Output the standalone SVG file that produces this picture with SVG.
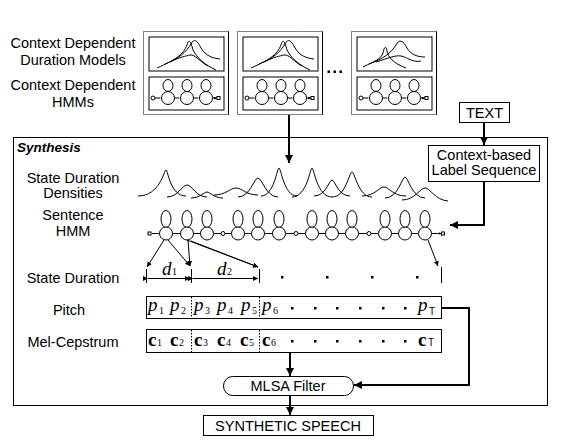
<svg xmlns="http://www.w3.org/2000/svg" width="586" height="443" viewBox="0 0 586 443">
<defs>
<style>
text{font-family:"Liberation Sans",Arial,sans-serif;fill:#000}
.lbl{font-size:14.5px;text-anchor:middle}
.syn{font-size:13.5px;font-weight:bold;font-style:italic}
.box{fill:#fff;stroke:#000;stroke-width:1}
.dot{fill:none;stroke:#000;stroke-width:1;stroke-dasharray:1 1}
.thin{fill:none;stroke:#000;stroke-width:1}
.conn{fill:none;stroke:#000;stroke-width:2}
.st{fill:#fff;stroke:#000;stroke-width:1}
.pv{font-family:"Liberation Serif","Times New Roman",serif;font-style:italic;font-size:19px}
.cv{font-family:"Liberation Serif","Times New Roman",serif;font-weight:bold;font-size:19px}
.sb{font-family:"Liberation Serif","Times New Roman",serif;font-size:10px}
.sbs{font-size:10px}
.dv{stroke:#000;stroke-width:1;stroke-dasharray:1.5 1.5}
.pk{fill:none;stroke:#000;stroke-width:1}
</style>
<marker id="ah" markerUnits="userSpaceOnUse" markerWidth="9" markerHeight="9" refX="8" refY="4" orient="auto"><path d="M0,0 L8,4 L0,8 z" fill="#000"/></marker>
<marker id="as" markerUnits="userSpaceOnUse" markerWidth="6" markerHeight="6" refX="5" refY="2.5" orient="auto"><path d="M0,0 L5,2.5 L0,5 z" fill="#000"/></marker>
<marker id="at" markerUnits="userSpaceOnUse" markerWidth="4" markerHeight="4" refX="3" refY="1.5" orient="auto"><path d="M0,0 L3,1.5 L0,3 z" fill="#000"/></marker>
<g id="mini">
<rect class="box" x="6" y="6" width="75" height="34"/>
<rect class="box" x="6" y="46" width="75" height="33"/>
<path class="thin" d="M12,67 H17.5 M32,67 H36.5 M51,67 H55.5 M70,67 H74" marker-end="url(#at)"/>
<circle class="st" cx="10" cy="67" r="2"/>
<rect class="st" x="74" y="65.5" width="3" height="3"/>
<ellipse class="st" cx="25" cy="54.5" rx="5" ry="6"/><circle class="st" cx="25" cy="67" r="6.5"/>
<ellipse class="st" cx="44" cy="54.5" rx="5" ry="6"/><circle class="st" cx="44" cy="67" r="6.5"/>
<ellipse class="st" cx="63" cy="54.5" rx="5" ry="6"/><circle class="st" cx="63" cy="67" r="6.5"/>
</g>
</defs>

<g id="labels-left">
<text class="lbl" x="73" y="48">Context Dependent</text>
<text class="lbl" x="73" y="65">Duration Models</text>
<text class="lbl" x="73" y="90">Context Dependent</text>
<text class="lbl" x="73" y="107">HMMs</text>
</g>

<g id="model1" transform="translate(143,31)">
<rect class="dot" x="0.5" y="0.5" width="85" height="83"/>
<line class="thin" x1="85.5" y1="0.5" x2="85.5" y2="83.5"/>
<use href="#mini"/>
<path class="pk" d="M14,37 C32,29 40,24 44,14 C46,7 48,11 50,19 C54,27 62,34 73,39"/>
<path class="pk" d="M22,33 C37,27 43,21 48,13 C51,7 54,9 58,17 C63,25 69,27 77,28"/>
<path class="pk" d="M27,31 C37,26 43,25 47,24 C52,23 57,31 65,35"/>
</g>
<g id="model2" transform="translate(237,31)">
<rect class="dot" x="0.5" y="0.5" width="85" height="83"/>
<line class="thin" x1="85.5" y1="0.5" x2="85.5" y2="83.5"/>
<use href="#mini"/>
<path class="pk" d="M14,37 C32,29 40,24 44,14 C46,7 48,11 50,19 C54,27 62,34 73,39"/>
<path class="pk" d="M22,33 C37,27 43,21 48,13 C51,7 54,9 58,17 C63,25 69,27 77,28"/>
<path class="pk" d="M27,31 C37,26 43,25 47,24 C52,23 57,31 65,35"/>
</g>
<g id="ellipsis">
<rect x="327.5" y="70.5" width="2.5" height="2.5"/>
<rect x="333.5" y="70.5" width="2.5" height="2.5"/>
<rect x="339.5" y="70.5" width="2.5" height="2.5"/>
</g>
<g id="model3" transform="translate(351,31)">
<rect class="dot" x="0.5" y="0.5" width="85" height="83"/>
<line class="thin" x1="85.5" y1="0.5" x2="85.5" y2="83.5"/>
<use href="#mini"/>
<path class="pk" d="M12,36 C24,30 30,28 32,22 C33,16 35,14 36,20 C37,26 42,32 55,37"/>
<path class="pk" d="M18,33 C32,28 40,22 45,14 C48,8 52,9 56,17 C60,24 67,26 74,26"/>
<path class="pk" d="M25,31 C38,27 44,24 50,25 C56,26 62,32 70,30"/>
</g>

<g id="text-in">
<rect class="box" x="459.5" y="102.5" width="50" height="20"/>
<text class="lbl" x="484.5" y="118">TEXT</text>
</g>

<g id="synthesis">
<rect class="thin" x="13.5" y="137.5" width="534" height="268"/>
<text class="syn" x="17" y="152">Synthesis</text>
<text class="lbl" x="73" y="183">State Duration</text>
<text class="lbl" x="73" y="198">Densities</text>
<text class="lbl" x="73" y="220">Sentence</text>
<text class="lbl" x="73" y="235.5">HMM</text>
<text class="lbl" x="73" y="283">State Duration</text>
<text class="lbl" x="69" y="315">Pitch</text>
<text class="lbl" x="73" y="347">Mel-Cepstrum</text>
</g>

<g id="label-seq">
<rect class="box" x="428.5" y="145.5" width="111" height="36"/>
<text class="lbl" x="484" y="160">Context-based</text>
<text class="lbl" x="484" y="175">Label Sequence</text>
</g>

<g id="densities">
<path class="pk" d="M138,196 C160,196 164,170 166,170 C168,170 170,196 186,196"/>
<path class="pk" d="M167,197 C178,197 182,185 187,185 C192,185 196,197 207,197"/>
<path class="pk" d="M191,198 C200,198 204,192 207,192 C210,192 214,198 223,198"/>
<path class="pk" d="M214,195 C226,195 230,188 236,188 C242,188 246,195 258,195"/>
<path class="pk" d="M238,197 C250,197 254,178 258,178 C262,178 266,197 278,197"/>
<path class="pk" d="M261,196 C274,196 277,168 279,168 C281,168 284,196 297,196"/>
<path class="pk" d="M292,197 C307,197 310,168 312,168 C314,168 317,197 332,197"/>
<path class="pk" d="M314,196 C326,196 329,180 332,180 C335,180 338,196 350,196"/>
<path class="pk" d="M332,197 C346,197 349,172 352,172 C355,172 358,197 372,197"/>
<path class="pk" d="M362,196 C375,196 379,187 384,187 C389,187 393,196 406,196"/>
<path class="pk" d="M385,198 C398,198 402,177 405,177 C408,177 412,198 425,198"/>
<path class="pk" d="M402,200 C415,200 420,188 425,188 C430,188 435,200 448,201"/>
</g>

<g id="sentence-hmm">
<path class="thin" d="M152,233.5 H159.5 M172.5,233.5 H180.5 M193.5,233.5 H200.5 M213.5,233.5 H221 M225,233.5 H231.5 M244.5,233.5 H251.5 M264.5,233.5 H272.5 M285.5,233.5 H294 M298,233.5 H305.5 M318.5,233.5 H325.5 M338.5,233.5 H345.5 M358.5,233.5 H367 M371,233.5 H378.5 M391.5,233.5 H398.5 M411.5,233.5 H418.5 M431.5,233.5 H441.5" marker-end="url(#at)"/>
<rect class="st" x="148" y="232" width="3" height="3"/>
<circle class="st" cx="223" cy="233.5" r="2"/>
<circle class="st" cx="296" cy="233.5" r="2"/>
<circle class="st" cx="369" cy="233.5" r="2"/>
<rect class="st" x="441.5" y="232" width="3" height="3"/>
<g>
<ellipse class="st" cx="166" cy="219" rx="5" ry="8.5"/><circle class="st" cx="166" cy="233.5" r="6.5"/>
<ellipse class="st" cx="187" cy="219" rx="5" ry="8.5"/><circle class="st" cx="187" cy="233.5" r="6.5"/>
<ellipse class="st" cx="207" cy="219" rx="5" ry="8.5"/><circle class="st" cx="207" cy="233.5" r="6.5"/>
<ellipse class="st" cx="238" cy="219" rx="5" ry="8.5"/><circle class="st" cx="238" cy="233.5" r="6.5"/>
<ellipse class="st" cx="258" cy="219" rx="5" ry="8.5"/><circle class="st" cx="258" cy="233.5" r="6.5"/>
<ellipse class="st" cx="279" cy="219" rx="5" ry="8.5"/><circle class="st" cx="279" cy="233.5" r="6.5"/>
<ellipse class="st" cx="312" cy="219" rx="5" ry="8.5"/><circle class="st" cx="312" cy="233.5" r="6.5"/>
<ellipse class="st" cx="332" cy="219" rx="5" ry="8.5"/><circle class="st" cx="332" cy="233.5" r="6.5"/>
<ellipse class="st" cx="352" cy="219" rx="5" ry="8.5"/><circle class="st" cx="352" cy="233.5" r="6.5"/>
<ellipse class="st" cx="385" cy="219" rx="5" ry="8.5"/><circle class="st" cx="385" cy="233.5" r="6.5"/>
<ellipse class="st" cx="405" cy="219" rx="5" ry="8.5"/><circle class="st" cx="405" cy="233.5" r="6.5"/>
<ellipse class="st" cx="425" cy="219" rx="5" ry="8.5"/><circle class="st" cx="425" cy="233.5" r="6.5"/>
</g>
</g>

<g id="state-duration">
<path class="thin" d="M146.5,269 V283 M191.5,269 V283 M259.5,269 V283 M441.5,267 V283"/>
<line class="thin" x1="148" y1="278.5" x2="190" y2="278.5" marker-start="url(#as)" marker-end="url(#as)"/>
<line class="thin" x1="193" y1="278.5" x2="258" y2="278.5" marker-start="url(#as)" marker-end="url(#as)"/>
<text class="pv" x="162" y="275">d</text><text class="sb" x="172" y="275">1</text>
<text class="pv" x="217" y="275">d</text><text class="sb" x="227" y="275">2</text>
<rect x="281" y="276" width="2.5" height="2.5"/>
<rect x="326" y="276" width="2.5" height="2.5"/>
<rect x="371" y="276" width="2.5" height="2.5"/>
<rect x="416" y="276" width="2.5" height="2.5"/>
</g>

<g id="pitch">
<rect class="box" x="146.5" y="296.5" width="295" height="22"/>
<line class="dv" x1="191.5" y1="297" x2="191.5" y2="318"/>
<line class="dv" x1="259.5" y1="297" x2="259.5" y2="318"/>
<text class="pv" x="148" y="311">p</text><text class="sb" x="159" y="314">1</text>
<text class="pv" x="170" y="311">p</text><text class="sb" x="181" y="314">2</text>
<text class="pv" x="194" y="311">p</text><text class="sb" x="205" y="314">3</text>
<text class="pv" x="217" y="311">p</text><text class="sb" x="228" y="314">4</text>
<text class="pv" x="241" y="311">p</text><text class="sb" x="252" y="314">5</text>
<text class="pv" x="262" y="311">p</text><text class="sb" x="273" y="314">6</text>
<rect x="291" y="307" width="2.5" height="2.5"/>
<rect x="314" y="307" width="2.5" height="2.5"/>
<rect x="336" y="307" width="2.5" height="2.5"/>
<rect x="359" y="307" width="2.5" height="2.5"/>
<rect x="382" y="307" width="2.5" height="2.5"/>
<rect x="404" y="307" width="2.5" height="2.5"/>
<text class="pv" x="418" y="311">p</text><text class="sbs" x="429" y="315">T</text>
</g>

<g id="cepstrum">
<rect class="box" x="146.5" y="329.5" width="295" height="23"/>
<line class="dv" x1="191.5" y1="330" x2="191.5" y2="352"/>
<line class="dv" x1="259.5" y1="330" x2="259.5" y2="352"/>
<text class="cv" x="148" y="346">c</text><text class="sb" x="157" y="346">1</text>
<text class="cv" x="170" y="346">c</text><text class="sb" x="179" y="346">2</text>
<text class="cv" x="194" y="346">c</text><text class="sb" x="203" y="346">3</text>
<text class="cv" x="217" y="346">c</text><text class="sb" x="226" y="346">4</text>
<text class="cv" x="240" y="346">c</text><text class="sb" x="249" y="346">5</text>
<text class="cv" x="262" y="346">c</text><text class="sb" x="271" y="346">6</text>
<rect x="291" y="340" width="2.5" height="2.5"/>
<rect x="314" y="340" width="2.5" height="2.5"/>
<rect x="336" y="340" width="2.5" height="2.5"/>
<rect x="359" y="340" width="2.5" height="2.5"/>
<rect x="382" y="340" width="2.5" height="2.5"/>
<rect x="404" y="340" width="2.5" height="2.5"/>
<text class="cv" x="418" y="346">c</text><text class="sbs" x="428" y="346">T</text>
</g>

<g id="mlsa">
<rect class="box" x="223.5" y="376.5" width="130" height="19" rx="9" ry="9.5"/>
<text class="lbl" x="288" y="391">MLSA Filter</text>
</g>

<g id="speech">
<rect class="box" x="203.5" y="415.5" width="170" height="20"/>
<text class="lbl" x="288" y="431">SYNTHETIC SPEECH</text>
</g>

<g id="connectors">
<line class="conn" x1="289" y1="115" x2="289" y2="163" marker-end="url(#ah)"/>
<line class="conn" x1="484" y1="122" x2="484" y2="145" marker-end="url(#ah)"/>
<polyline class="conn" points="484,181 484,225 450,225" marker-end="url(#ah)"/>
<line class="conn" x1="290" y1="352" x2="290" y2="376" marker-end="url(#ah)"/>
<line class="conn" x1="290" y1="395" x2="290" y2="415" marker-end="url(#ah)"/>
<polyline class="conn" points="441,308 469,308 469,385 354,385" marker-end="url(#ah)"/>
<line class="thin" x1="164" y1="240" x2="147" y2="267" marker-end="url(#as)"/>
<line class="thin" x1="168" y1="240" x2="190" y2="266" marker-end="url(#as)"/>
<line class="thin" x1="188" y1="240" x2="190" y2="266" marker-end="url(#as)"/>
<line class="thin" x1="187" y1="240" x2="258" y2="267" marker-end="url(#as)"/>
<line class="thin" x1="191" y1="241" x2="258" y2="267" marker-end="url(#as)"/>
<line class="thin" x1="428" y1="240" x2="438" y2="266" marker-end="url(#as)"/>
</g>
</svg>
